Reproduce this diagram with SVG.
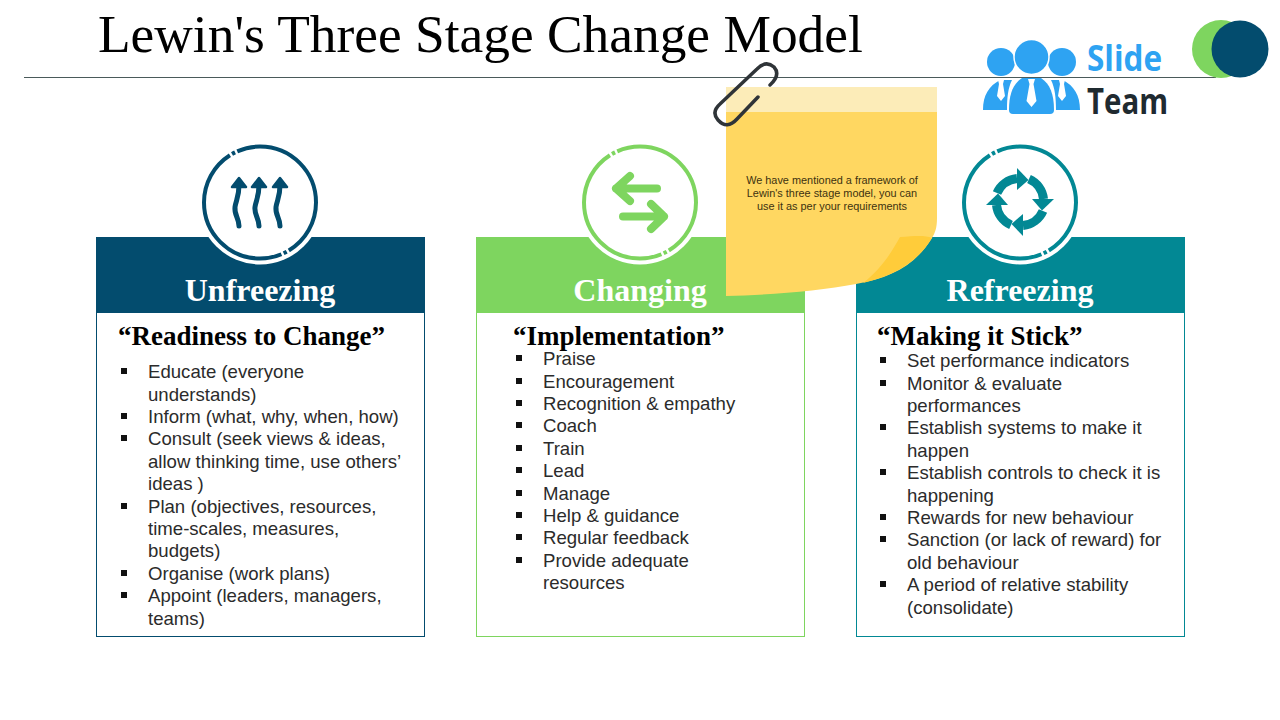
<svg xmlns="http://www.w3.org/2000/svg" width="1280" height="720" viewBox="0 0 1280 720">
<style>
.t{font-family:"Liberation Serif",serif}
.h{font-family:"Liberation Serif",serif;font-weight:bold;font-size:32px;fill:#fff;text-anchor:middle}
.s{font-family:"Liberation Serif",serif;font-weight:bold;font-size:27px;fill:#000}
.b{font-family:"Liberation Sans",sans-serif;font-size:18.600px;fill:#2b2b2b}
.m{font-family:"Liberation Sans",sans-serif;font-size:10.900px;fill:#3d3210;text-anchor:middle}
.ring{fill:none;stroke-width:4;stroke-dasharray:59 2.500 3.500 2.500 170 2.500 3.500 2.500 114}
.logo{font-family:"Open Sans",sans-serif;font-weight:700;font-size:35px}
</style>
<defs>
<rect id="bul" x="-3" y="-3" width="6" height="6" fill="#111"/>
<g id="cyc">
<path d="M-23 -9A24.500 24.500 0 0 1 -3 -23.500" fill="none" stroke="#028894" stroke-width="9"/>
<path d="M-3 -34L8.500 -22L-3 -12z" fill="#028894"/>
</g>
</defs>
<rect width="1280" height="720" fill="#fff"/>
<text class="t" x="98" y="52" font-size="53.400" fill="#000">Lewin's Three Stage Change Model</text>
<path d="M24 77.500H1216" stroke="#4a5a5a" stroke-width="1"/>

<g id="logo">
<g fill="#2ea3f2">
<circle cx="1001" cy="62" r="14"/><circle cx="1062" cy="62" r="14"/>
<path d="M983 110C983 95 989 86 1000 80L1012 80C1008 88 1007 98 1007 110z"/>
<path d="M1080 110C1080 95 1074 86 1063 80L1051 80C1055 88 1056 98 1056 110z"/>
<circle cx="1031.500" cy="57" r="17.500" stroke="#fff" stroke-width="1.500"/>
<path d="M1009 110C1009 94 1013 84 1022 78H1041C1050 84 1054 94 1054 110Q1054 114 1050 114H1013Q1009 114 1009 110z"/>
</g>
<g fill="#fff"><path d="M1028 79h7l-1.500 5 3 17-5 6-5-6 3-17z"/><path d="M998 80h6l-1 4 2 12-4 5-4-5 2-12z"/><path d="M1059 80h6l-1 4 2 12-4 5-4-5 2-12z"/></g>
<text class="logo" x="1087" y="71" fill="#2ea3f2" textLength="75" lengthAdjust="spacingAndGlyphs">Slide</text>
<text class="logo" x="1087" y="114" fill="#1f2a30" textLength="81" lengthAdjust="spacingAndGlyphs">Team</text>
<circle cx="1221" cy="49" r="29" fill="#7ed55f"/>
<circle cx="1240" cy="49" r="28.500" fill="#034c6e"/>
</g>

<g id="unfreezing">
<rect x="96.500" y="237.500" width="328" height="399" fill="#fff" stroke="#034c6e" stroke-width="1"/>
<rect x="96" y="237" width="329" height="76" fill="#034c6e"/>
<circle cx="260" cy="202.500" r="62" fill="#fff"/>
<circle class="ring" cx="260" cy="202.500" r="56" pathLength="360" stroke="#034c6e"/>
<g fill="none" stroke="#034c6e" stroke-width="5" stroke-linecap="round" stroke-linejoin="round">
<path d="M239 226C239 218 234 215 235 207C236 200 239 197 239 185"/>
<path d="M259 226C259 218 254 215 255 207C256 200 259 197 259 185"/>
<path d="M280 226C280 218 275 215 276 207C277 200 280 197 280 185"/>
</g>
<g fill="#034c6e" stroke="#034c6e" stroke-width="2.500" stroke-linejoin="round">
<path d="M239 178L232 187H246z"/><path d="M259 178L252 187H266z"/><path d="M280 178L273 187H287z"/>
</g>
<text class="h" x="260" y="300.500">Unfreezing</text>
<text class="s" x="118" y="344.500">“Readiness to Change”</text>
<g class="b">
<text x="148" y="378">Educate (everyone</text><text x="148" y="401">understands)</text>
<text x="148" y="423">Inform (what, why, when, how)</text>
<text x="148" y="445">Consult (seek views &amp; ideas,</text><text x="148" y="468">allow thinking time, use others’</text><text x="148" y="490">ideas )</text>
<text x="148" y="513">Plan (objectives, resources,</text><text x="148" y="535">time-scales, measures,</text><text x="148" y="557">budgets)</text>
<text x="148" y="580">Organise (work plans)</text>
<text x="148" y="602">Appoint (leaders, managers,</text><text x="148" y="625">teams)</text>
</g>
<use href="#bul" x="124" y="371"/><use href="#bul" x="124" y="416"/><use href="#bul" x="124" y="438"/><use href="#bul" x="124" y="506"/><use href="#bul" x="124" y="573"/><use href="#bul" x="124" y="595"/>
</g>

<g id="changing">
<rect x="476.500" y="237.500" width="328" height="399" fill="#fff" stroke="#7ed55f" stroke-width="1"/>
<rect x="476" y="237" width="329" height="76" fill="#7ed55f"/>
<circle cx="640" cy="202.500" r="62" fill="#fff"/>
<circle class="ring" cx="640" cy="202.500" r="56" pathLength="360" stroke="#7ed55f"/>
<g fill="none" stroke="#7ed55f" stroke-width="8" stroke-linecap="round" stroke-linejoin="round">
<path d="M657 188.500H616M630 176L616 188.500L630 201"/>
<path d="M623 216.500H664M651 204L664 216.500L651 229"/>
</g>
<text class="h" x="640" y="300.500">Changing</text>
<text class="s" x="513" y="344.500">“Implementation”</text>
<g class="b">
<text x="543" y="365">Praise</text><text x="543" y="388">Encouragement</text><text x="543" y="410">Recognition &amp; empathy</text><text x="543" y="432">Coach</text><text x="543" y="455">Train</text><text x="543" y="477">Lead</text><text x="543" y="500">Manage</text><text x="543" y="522">Help &amp; guidance</text><text x="543" y="544">Regular feedback</text><text x="543" y="567">Provide adequate</text><text x="543" y="589">resources</text>
</g>
<use href="#bul" x="519" y="358"/><use href="#bul" x="519" y="381"/><use href="#bul" x="519" y="403"/><use href="#bul" x="519" y="425"/><use href="#bul" x="519" y="448"/><use href="#bul" x="519" y="470"/><use href="#bul" x="519" y="493"/><use href="#bul" x="519" y="515"/><use href="#bul" x="519" y="537"/><use href="#bul" x="519" y="560"/>
</g>

<g id="refreezing">
<rect x="856.500" y="237.500" width="328" height="399" fill="#fff" stroke="#028894" stroke-width="1"/>
<rect x="856" y="237" width="329" height="76" fill="#028894"/>
<circle cx="1020" cy="202.500" r="62" fill="#fff"/>
<circle class="ring" cx="1020" cy="202.500" r="56" pathLength="360" stroke="#028894"/>
<use href="#cyc" transform="translate(1020 202)"/>
<use href="#cyc" transform="translate(1020 202) rotate(90)"/>
<use href="#cyc" transform="translate(1020 202) rotate(180)"/>
<use href="#cyc" transform="translate(1020 202) rotate(270)"/>
<text class="h" x="1020" y="300.500">Refreezing</text>
<text class="s" x="877" y="344.500">“Making it Stick”</text>
<g class="b">
<text x="907" y="367">Set performance indicators</text>
<text x="907" y="390">Monitor &amp; evaluate</text><text x="907" y="412">performances</text>
<text x="907" y="434">Establish systems to make it</text><text x="907" y="457">happen</text>
<text x="907" y="479">Establish controls to check it is</text><text x="907" y="502">happening</text>
<text x="907" y="524">Rewards for new behaviour</text>
<text x="907" y="546">Sanction (or lack of reward) for</text><text x="907" y="569">old behaviour</text>
<text x="907" y="591">A period of relative stability</text><text x="907" y="614">(consolidate)</text>
</g>
<use href="#bul" x="883" y="360"/><use href="#bul" x="883" y="383"/><use href="#bul" x="883" y="427"/><use href="#bul" x="883" y="472"/><use href="#bul" x="883" y="517"/><use href="#bul" x="883" y="539"/><use href="#bul" x="883" y="584"/>
</g>

<g id="note">
<path d="M726 112H937V218C937 228 935 233 932 238C915 266 890 278 856 284C820 291 770 295 726 296z" fill="#ffd761"/>
<rect x="726" y="87" width="211" height="25" fill="#fcecb8"/>
<path d="M900 237C915 236 925 235 932 238C916 264 892 276 863 283C880 270 890 255 900 237z" fill="#ffcc3a"/>
<g class="m"><text x="832" y="184">We have mentioned a framework of</text><text x="832" y="197">Lewin's three stage model, you can</text><text x="832" y="210">use it as per your requirements</text></g>
<path d="M758 97L737 119Q727 130 718 120Q711 112 720 104L757 69Q766 60 774 67Q781 75 770 85" fill="none" stroke="#2f3438" stroke-width="3.500" stroke-linecap="round" stroke-linejoin="round"/>
</g>
</svg>
